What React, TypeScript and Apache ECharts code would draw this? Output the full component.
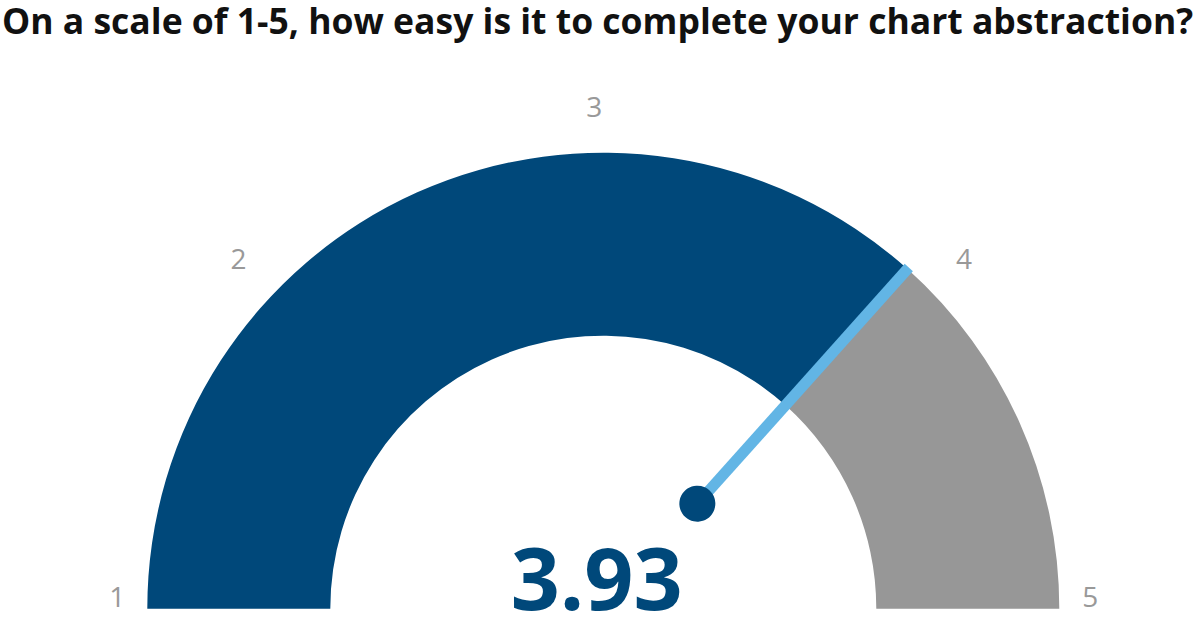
import React, { useEffect, useRef } from 'react';
import * as echarts from 'echarts';

// datos de la encuesta
const scaleMin = 1;
const scaleMax = 5;
const scaleTicks = [1, 2, 3, 4, 5];
const averageScore = 3.93;
const questionTitle = 'On a scale of 1-5, how easy is it to complete your chart abstraction?';

const DARK_BLUE = '#00487A';
const GREY = '#979797';
const NEEDLE_BLUE = '#62B5E5';

const CX = 603.3;
const CY = 608.7;
const RADIUS = 456;

const GaugeChart: React.FC = () => {
    const chartRef = useRef<HTMLDivElement>(null);

    useEffect(() => {
        if (!chartRef.current) return;
        const chart = echarts.init(chartRef.current, null, { renderer: 'svg' });

        const fraction = (averageScore - scaleMin) / (scaleMax - scaleMin);
        const hiddenAxis = {
            axisLine: { show: false },
            axisTick: { show: false },
            splitLine: { show: false, length: 0, distance: 0 },
            axisLabel: { show: false },
            title: { show: false },
            detail: { show: false },
        };

        // el gauge alinea las etiquetas según el ángulo; el padding las ajusta
        const labelStyle = { color: '#999999', fontSize: 28, fontFamily: 'Open Sans', lineHeight: 28 };

        const option = {
            animation: false,
            title: {
                text: questionTitle,
                left: 2,
                top: 2,
                padding: 0,
                textStyle: { fontFamily: 'Open Sans', fontWeight: 700, fontSize: 35.5, color: '#111111' },
            },
            series: [
                {
                    type: 'gauge',
                    center: [CX, CY],
                    radius: RADIUS,
                    startAngle: 180,
                    endAngle: 0,
                    min: scaleMin,
                    max: scaleMax,
                    splitNumber: scaleTicks.length - 1,
                    axisLine: {
                        lineStyle: {
                            width: 183,
                            color: [[fraction, DARK_BLUE], [1, GREY]],
                        },
                    },
                    axisTick: { show: false },
                    splitLine: { show: false, length: 0, distance: 0 },
                    axisLabel: {
                        distance: -74,
                        formatter: (v: number) => {
                            const n = Math.round(v);
                            return scaleTicks.includes(n) ? `{t${n}|${n}}` : '';
                        },
                        rich: {
                            t1: { ...labelStyle, padding: [0, 0, 26, 36] },
                            t2: { ...labelStyle, padding: [49, 0, 0, 2] },
                            t3: { ...labelStyle, padding: [27, 18, 0, 0] },
                            t4: { ...labelStyle, padding: [49, 6, 0, 0] },
                            t5: { ...labelStyle, padding: [0, 35, 26, 0] },
                        },
                    },
                    pointer: { show: false },
                    anchor: { show: false },
                    title: { show: false },
                    detail: {
                        valueAnimation: false,
                        offsetCenter: [-6.6, -32],
                        formatter: (v: number) => v.toFixed(2),
                        color: DARK_BLUE,
                        fontSize: 86,
                        lineHeight: 76,
                        fontWeight: 700,
                        fontFamily: 'Open Sans',
                    },
                    data: [{ value: averageScore }],
                },
                {
                    // aguja
                    type: 'gauge',
                    center: [CX, CY],
                    radius: RADIUS,
                    startAngle: 180,
                    endAngle: 0,
                    min: scaleMin,
                    max: scaleMax,
                    ...hiddenAxis,
                    pointer: {
                        icon: 'rect',
                        width: 11,
                        length: 317,
                        offsetCenter: [0, -141],
                        itemStyle: { color: NEEDLE_BLUE },
                    },
                    data: [{ value: averageScore }],
                },
                {
                    // punto de la aguja
                    type: 'gauge',
                    center: [CX, CY],
                    radius: RADIUS,
                    startAngle: 180,
                    endAngle: 0,
                    min: scaleMin,
                    max: scaleMax,
                    ...hiddenAxis,
                    pointer: {
                        icon: 'circle',
                        width: 36,
                        length: 36,
                        offsetCenter: [0, -123],
                        itemStyle: { color: DARK_BLUE },
                    },
                    data: [{ value: averageScore }],
                },
            ],
        };

        chart.setOption(option);

        return () => {
            chart.dispose();
        };
    }, []);

    return (
        <div
            ref={chartRef}
            style={{ position: 'absolute', left: 0, top: 0, width: '1201px', height: '635px', background: '#fff' }}
        />
    );
};

export default function App() {
    return <GaugeChart />;
}
